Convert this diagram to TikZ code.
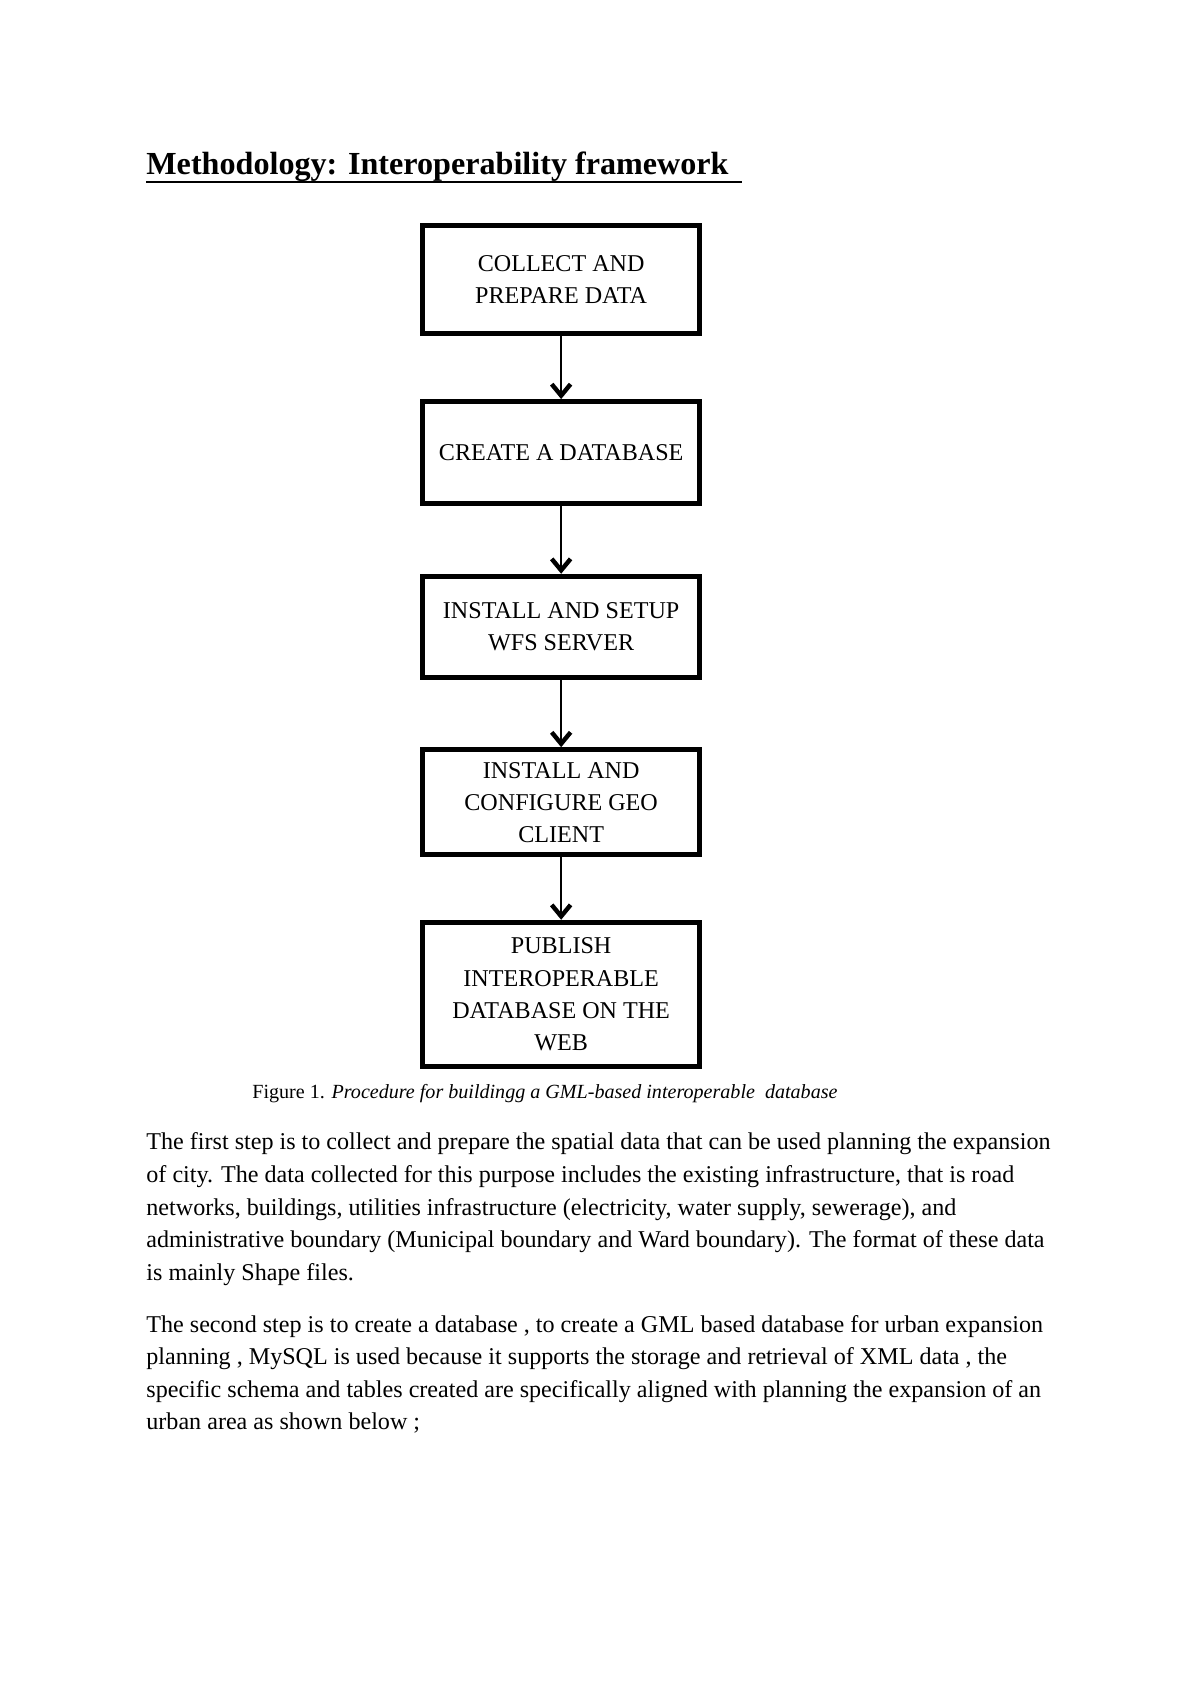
\documentclass[tikz,border=0pt]{standalone}
\usepackage{fontspec}
\setmainfont{Liberation Serif}
\usepackage{tikz}
\usetikzlibrary{calc}
\usetikzlibrary{arrows.meta}
\usetikzlibrary{positioning}

\begin{document}
\begin{tikzpicture}[transform shape,scale=1,
	stepbox/.style={draw,line width=2.5pt,minimum width=4.85cm,inner sep=2pt,align=center,font=\fontsize{12}{16}\selectfont},
	flowarrow/.style={line width=1pt,-{Straight Barb[length=2mm,width=3.3mm,line width=2.2pt]}},
	bodytext/.style={anchor=north west,inner sep=0pt,align=left,font=\fontsize{12}{16.2}\selectfont}]
	\useasboundingbox (0,0) rectangle (21,-29.715);
	\node[anchor=base west,inner sep=0pt,font=\fontsize{16}{18}\selectfont\bfseries] (title) at (2.555,-3.06) {Methodology: Interoperability framework};
	\draw[line width=1pt] ($(title.base west)+(0,-0.12)$) -- ($(title.base east)+(0.23,-0.12)$);
	\node[stepbox,minimum height=1.89cm] (collect) at (9.82,-4.89) {COLLECT AND\\PREPARE DATA};
	\node[stepbox,minimum height=1.785cm] (database) at (9.82,-7.92) {CREATE A DATABASE};
	\node[stepbox,minimum height=1.77cm] (server) at (9.82,-10.97) {INSTALL AND SETUP\\WFS SERVER};
	\node[stepbox,minimum height=1.84cm] (client) at (9.82,-14.04) {INSTALL AND\\CONFIGURE GEO\\CLIENT};
	\node[stepbox,minimum height=2.52cm] (publish) at (9.82,-17.40) {PUBLISH\\INTEROPERABLE\\DATABASE ON THE\\WEB};
	\draw[flowarrow] (collect) -- (database);
	\draw[flowarrow] (database) -- (server);
	\draw[flowarrow] (server) -- (client);
	\draw[flowarrow] (client) -- (publish);
	\node[anchor=base west,inner sep=0pt,font=\fontsize{10}{12}\selectfont] (caption) at (4.41,-19.23) {Figure 1. \textit{Procedure for buildingg a GML-based interoperable\ \ database}};
	\node[bodytext] (firststep) at (2.555,-19.82) {The first step is to collect and prepare the spatial data that can be used planning the expansion\\of city. The data collected for this purpose includes the existing infrastructure, that is road\\networks, buildings, utilities infrastructure (electricity, water supply, sewerage), and\\administrative boundary (Municipal boundary and Ward boundary). The format of these data\\is mainly Shape files.};
	\node[bodytext] (secondstep) at (2.555,-23.01) {The second step is to create a database , to create a GML based database for urban expansion\\planning , MySQL is used because it supports the storage and retrieval of XML data , the\\specific schema and tables created are specifically aligned with planning the expansion of an\\urban area as shown below ;};
\end{tikzpicture}
\end{document}
